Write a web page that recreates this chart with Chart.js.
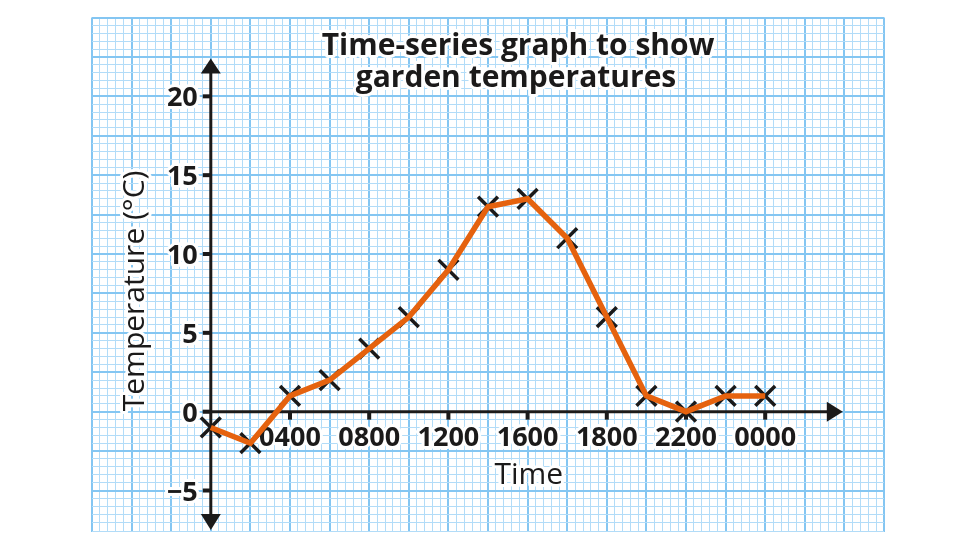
<!DOCTYPE html>
<html>
<head>
<meta charset="utf-8">
<script src="https://cdn.jsdelivr.net/npm/chart.js@4"></script>
<style>
  html, body { margin: 0; padding: 0; background: #fff; }
  #wrap { width: 976px; height: 549px; position: relative; }
</style>
</head>
<body>
<div id="wrap"><canvas id="chart"></canvas></div>
<script>
// readings every two hours, x is the reading number along the time axis
const readingIndex = [0, 1, 2, 3, 4, 5, 6, 7, 8, 9, 10, 11, 12, 13, 14];
const temperatures = [-1, -2, 1, 2, 4, 6, 9, 13, 13.5, 11, 6, 1, 0, 1, 1];

const timeTickAt = [2, 4, 6, 8, 10, 12, 14];
const timeTickLabels = ['0400', '0800', '1200', '1600', '1800', '2200', '0000'];
const tempTicks = [-5, 0, 5, 10, 15, 20];

const titleLines = ['Time-series graph to show', 'garden temperatures'];
const xTitle = 'Time';
const yTitle = 'Temperature (\u00b0C)';

const ORANGE = '#e5620e';
const INK = '#1b1a1a';
const MAJOR = '#84c6f2';
const MINOR = '#b2dcf8';
const FONT = '"Open Sans"';

const points = readingIndex.map(function (x, i) {
    return {x: x, y: temperatures[i]};
});

function near(v, step) {
    let r = v / step;
    return Math.abs(r - Math.round(r)) < 1e-6;
}

function haloText(ctx, txt, x, y) {
    ctx.lineJoin = 'round';
    ctx.lineWidth = 6;
    ctx.strokeStyle = '#fff';
    ctx.strokeText(txt, x, y);
    ctx.fillStyle = INK;
    ctx.fillText(txt, x, y);
}

// axes with arrows, tick marks and labels, drawn under the data
const paperAxes = {
    id: 'paperAxes',
    beforeDatasetsDraw: function (chart) {
        let ctx = chart.ctx;
        let xs = chart.scales.x, ys = chart.scales.y;
        let x0 = xs.getPixelForValue(0);
        let y0 = ys.getPixelForValue(0);
        ctx.save();
        ctx.strokeStyle = INK;
        ctx.fillStyle = INK;
        ctx.lineWidth = 3;

        // y axis
        let yTop = ys.getPixelForValue(22.4);
        let yBot = ys.getPixelForValue(-7.5);
        ctx.beginPath();
        ctx.moveTo(x0, yTop + 10);
        ctx.lineTo(x0, yBot - 10);
        ctx.stroke();
        ctx.beginPath();
        ctx.moveTo(x0, yTop); ctx.lineTo(x0 - 10, yTop + 15); ctx.lineTo(x0 + 10, yTop + 15);
        ctx.closePath(); ctx.fill();
        ctx.beginPath();
        ctx.moveTo(x0, yBot); ctx.lineTo(x0 - 10, yBot - 16); ctx.lineTo(x0 + 10, yBot - 16);
        ctx.closePath(); ctx.fill();

        // x axis
        let xEnd = xs.getPixelForValue(15.96);
        ctx.beginPath();
        ctx.moveTo(x0 - 8, y0);
        ctx.lineTo(xEnd - 10, y0);
        ctx.stroke();
        ctx.beginPath();
        ctx.moveTo(xEnd, y0); ctx.lineTo(xEnd - 16, y0 - 10); ctx.lineTo(xEnd - 16, y0 + 10);
        ctx.closePath(); ctx.fill();

        // tick marks
        tempTicks.forEach(function (v) {
            let py = ys.getPixelForValue(v);
            ctx.fillRect(x0 - 8, py - 2, 8, 4);
        });
        timeTickAt.forEach(function (v) {
            let px = xs.getPixelForValue(v);
            ctx.fillRect(px - 2, y0, 4, 8);
        });

        // tick labels
        ctx.font = 'bold 27px ' + FONT;
        ctx.textAlign = 'right';
        ctx.textBaseline = 'alphabetic';
        tempTicks.forEach(function (v) {
            let py = ys.getPixelForValue(v);
            let txt = v < 0 ? '\u2212' + Math.abs(v) : String(v);
            haloText(ctx, txt, x0 - 13, py + 10);
        });
        ctx.textAlign = 'center';
        timeTickAt.forEach(function (v, i) {
            haloText(ctx, timeTickLabels[i], xs.getPixelForValue(v), y0 + 34);
        });

        // axis titles
        ctx.font = '30px ' + FONT;
        haloText(ctx, xTitle, xs.getPixelForValue(8.03), y0 + 72);
        ctx.save();
        ctx.translate(x0 - 67, ys.getPixelForValue(7.66));
        ctx.rotate(-Math.PI / 2);
        haloText(ctx, yTitle, 0, 0);
        ctx.restore();

        // title
        ctx.font = 'bold 30px ' + FONT;
        haloText(ctx, titleLines[0], 518, 55);
        haloText(ctx, titleLines[1], 516, 87);
        ctx.restore();
    }
};

new Chart(document.getElementById('chart'), {
    type: 'line',
    data: {
        datasets: [
            {
                label: 'line',
                data: points,
                borderColor: ORANGE,
                borderWidth: 5.5,
                pointRadius: 0,
                tension: 0,
                order: 1,
            },
            {
                label: 'readings',
                data: points,
                showLine: false,
                pointStyle: 'crossRot',
                pointRadius: 14,
                pointBorderColor: INK,
                pointBorderWidth: 3.5,
                order: 2,
            }
        ]
    },
    options: {
        responsive: true,
        maintainAspectRatio: false,
        animation: false,
        layout: {padding: {left: 92, right: 92, top: 17, bottom: 16}},
        plugins: {
            legend: {display: false},
            tooltip: {enabled: false},
            title: {display: false},
        },
        scales: {
            x: {
                type: 'linear',
                min: -3,
                max: 17,
                border: {display: false},
                ticks: {display: false, stepSize: 0.2, maxTicksLimit: 1000},
                grid: {
                    drawTicks: false,
                    color: function (c) { return near(c.tick.value, 1) ? MAJOR : MINOR; },
                    lineWidth: function (c) { return near(c.tick.value, 1) ? 2 : 1; },
                }
            },
            y: {
                type: 'linear',
                min: -7.6,
                max: 25,
                border: {display: false},
                ticks: {display: false, stepSize: 0.5, maxTicksLimit: 1000},
                grid: {
                    drawTicks: false,
                    color: function (c) { return near(c.tick.value, 2.5) ? MAJOR : MINOR; },
                    lineWidth: function (c) { return near(c.tick.value, 2.5) ? 2 : 1; },
                }
            }
        }
    },
    plugins: [paperAxes]
});
</script>
</body>
</html>
